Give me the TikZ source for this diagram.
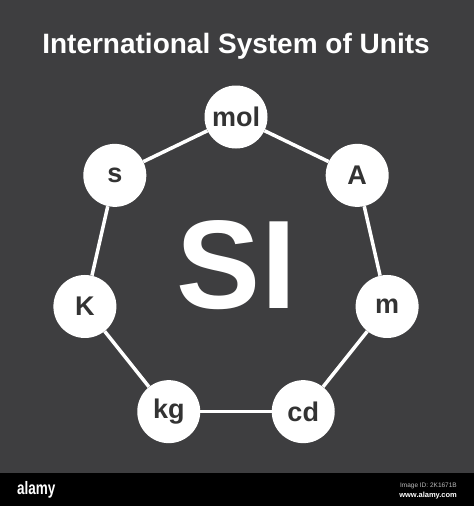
\documentclass[tikz,border=0pt]{standalone}
\usepackage{fontspec}
\setmainfont{Liberation Sans}
\definecolor{bgGray}{HTML}{3E3E40}
\definecolor{unitText}{HTML}{333333}
\definecolor{idGray}{HTML}{BBBBBB}

\begin{document}
\begin{tikzpicture}[
    x=1pt, y=-1pt,
    unit/.style={circle, fill=white, minimum size=63pt, inner sep=0pt, font=\bfseries\fontsize{27}{27}\selectfont, text=unitText},
    link/.style={draw=white, line width=3.5pt},
    title text/.style={font=\bfseries\fontsize{28}{28}\selectfont, text=white, anchor=base, inner sep=0pt}
    ]
    % background and bottom strip
    \fill[bgGray] (0,0) rectangle (474,473);
    \fill[black] (0,473) rectangle (474,506);
    \useasboundingbox (0,0) rectangle (474,506);

    \node[title text] (title) at (236,53) {International System of Units};
    \node[font=\bfseries\fontsize{126}{126}\selectfont, text=white, anchor=base, inner sep=0pt] (si) at (236.5,308) {SI};

    % the seven base units round a heptagon
    \foreach \u [count=\i from 0] in {mol,A,m,cd,kg,K,s}
      \node[unit] (u\i) at ({236+155*cos(90-\i*360/7)},{272-155*sin(90-\i*360/7)}) {\u};
    \foreach \i [evaluate=\i as \j using {int(mod(\i+1,7))}] in {0,...,6}
      \draw[link] (u\i) -- (u\j);

    % strip texts
    \node[font=\bfseries\fontsize{18}{18}\selectfont, text=white, anchor=base west, inner sep=0pt] (brand) at (17,494) {\scalebox{0.75}[1]{alamy}};
    \node[font=\fontsize{6.5}{6.5}\selectfont, text=idGray, anchor=base east, inner sep=0pt] (imgid) at (457,487) {Image ID: 2K1671B};
    \node[font=\bfseries\fontsize{7.5}{7.5}\selectfont, text=white, anchor=base east, inner sep=0pt] (site) at (457,497) {www.alamy.com};
\end{tikzpicture}
\end{document}
